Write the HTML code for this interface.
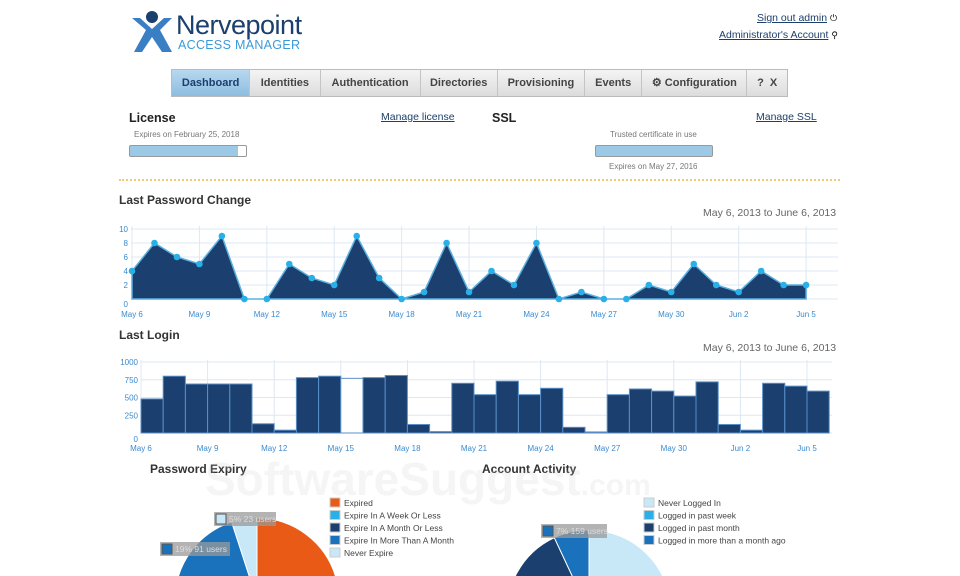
<!DOCTYPE html>
<html><head><meta charset="utf-8"><style>
body{margin:0;width:960px;height:576px;overflow:hidden;background:#fff;font-family:"Liberation Sans",sans-serif;position:relative}
.a{position:absolute;white-space:nowrap}
a{color:#1b3f6e;text-decoration:underline}
.nav{position:absolute;left:171px;top:69px;height:26px;width:615px;border:1px solid #bbb;background:linear-gradient(#f4f4f4,#dcdcdc);display:flex;font-size:11px;font-weight:bold;color:#444}
.nav div{border-right:1px solid #c4c4c4;line-height:26px;text-align:center}
</style></head><body>
<svg class="a" style="left:130px;top:10px" width="44" height="44" viewBox="0 0 44 44">
<circle cx="22" cy="7" r="6" fill="#1b3f6e"/>
<path d="M2 8 L16 20 L4 42 L12 42 L22 27 L32 42 L42 42 L30 20 L42 8 L34 8 L22 19 L10 8Z" fill="#3a7fc4"/>
</svg>
<div class="a" style="left:176px;top:10px;font-size:27px;color:#1b3f6e;letter-spacing:-0.5px">Nervepoint</div>
<div class="a" style="left:178px;top:38px;font-size:12.5px;color:#3a9ad9;letter-spacing:0.3px">ACCESS MANAGER</div>
<div class="a" style="left:757px;top:12px;font-size:10.5px"><a>Sign out admin</a> <span style="font-size:9px">⏻</span></div>
<div class="a" style="left:719px;top:29px;font-size:10.5px"><a>Administrator's Account</a> <span style="font-size:9px">⚲</span></div>
<div class="nav">
<div style="width:78px;background:linear-gradient(#b8d8ef,#8dbde0);color:#1b3f6e">Dashboard</div>
<div style="width:70px">Identities</div><div style="width:100px">Authentication</div><div style="width:77px">Directories</div><div style="width:87px">Provisioning</div><div style="width:57px">Events</div><div style="width:105px">⚙ Configuration</div><div style="width:40px;border:none">? &nbsp;X</div>
</div>
<div class="a" style="left:129px;top:111px;font-size:12.5px;font-weight:bold;color:#222">License</div>
<div class="a" style="left:381px;top:111px;font-size:10.5px"><a>Manage license</a></div>
<div class="a" style="left:492px;top:111px;font-size:12.5px;font-weight:bold;color:#222">SSL</div>
<div class="a" style="left:756px;top:111px;font-size:10.5px"><a>Manage SSL</a></div>
<div class="a" style="left:134px;top:130px;font-size:8px;color:#777">Expires on February 25, 2018</div>
<div class="a" style="left:610px;top:130px;font-size:8px;color:#777">Trusted certificate in use</div>
<div class="a" style="left:609px;top:162px;font-size:8px;color:#777">Expires on May 27, 2016</div>
<div class="a" style="left:129px;top:145px;width:116px;height:10px;border:1px solid #999;border-radius:2px;background:linear-gradient(90deg,#9cc9e6 0 93%,#fff 93%)"></div>
<div class="a" style="left:595px;top:145px;width:116px;height:10px;border:1px solid #999;border-radius:2px;background:#9cc9e6"></div>
<div class="a" style="left:119px;top:179px;width:721px;border-top:2px dotted #f5c878"></div>
<div class="a" style="left:119px;top:193px;font-size:12px;font-weight:bold;color:#333">Last Password Change</div>
<div class="a" style="left:703px;top:207px;font-size:10.5px;color:#666">May 6, 2013 to June 6, 2013</div>
<div class="a" style="left:119px;top:328px;font-size:12px;font-weight:bold;color:#333">Last Login</div>
<div class="a" style="left:703px;top:342px;font-size:10.5px;color:#666">May 6, 2013 to June 6, 2013</div>
<div class="a" style="left:150px;top:462px;font-size:12px;font-weight:bold;color:#333">Password Expiry</div>
<div class="a" style="left:482px;top:462px;font-size:12px;font-weight:bold;color:#333">Account Activity</div>
<svg class="a" style="left:0;top:0" width="960" height="576" id="s"></svg>
<div class="a" style="left:205px;top:452px;font-size:46px;font-weight:bold;color:rgba(200,200,200,0.18)">SoftwareSuggest<span style="font-size:30px">.com</span></div>
<script>
var s=document.getElementById('s'),h='';
function T(x,y,t,a){h+='<text x="'+x+'" y="'+y+'" font-size="8" fill="#3a8ad0" text-anchor="'+(a||'middle')+'" font-family="Liberation Sans">'+t+'</text>';}
var labs=['May 6','May 9','May 12','May 15','May 18','May 21','May 24','May 27','May 30','Jun 2','Jun 5'];
var x0=132,dx=22.47,y0=299;
for(var v=0;v<=10;v+=2){var y=y0-v*7;h+='<line x1="131" x2="838" y1="'+y+'" y2="'+y+'" stroke="#dce8f4"/>';T(128,y+3+(v==0?5:0),v,'end');}
for(var i=0;i<11;i++){var x=x0+i*3*dx;h+='<line x1="'+x+'" x2="'+x+'" y1="226" y2="'+y0+'" stroke="#dce8f4"/>';T(x,317,labs[i]);}
var d=[4,8,6,5,9,0,0,5,3,2,9,3,0,1,8,1,4,2,8,0,1,0,0,2,1,5,2,1,4,2,2];
var p='M'+x0+' '+y0;d.forEach(function(v,i){p+=' L'+(x0+i*dx)+' '+(y0-v*7)});p+=' L'+(x0+30*dx)+' '+y0+'Z';
h+='<path d="'+p+'" fill="#1b3f6e" stroke="#5ab0e0" stroke-width="1.5"/>';
d.forEach(function(v,i){h+='<circle cx="'+(x0+i*dx)+'" cy="'+(y0-v*7)+'" r="3.3" fill="#29b0e8"/>'});
var b0=433,bx=141,bd=22.2,sc=0.071;
[0,250,500,750,1000].forEach(function(v){var y=b0-v*sc;h+='<line x1="141" x2="832" y1="'+y+'" y2="'+y+'" stroke="#dce8f4"/>';T(138,y+3+(v==0?6:0),v,'end');});
for(var i=0;i<11;i++){var x=bx+i*3*bd;h+='<line x1="'+x+'" x2="'+x+'" y1="360" y2="'+b0+'" stroke="#dce8f4"/>';T(x,451,labs[i]);}
var b=[480,800,690,690,690,130,40,780,800,770,780,810,120,20,700,540,730,540,630,80,15,540,620,590,520,720,120,40,700,660,590];
b.forEach(function(v,i){var hh=v*sc;h+='<rect x="'+(bx+i*bd)+'" y="'+(b0-hh)+'" width="'+bd+'" height="'+hh+'" fill="'+(i==9?'#fff':'#1b3f6e')+'" stroke="#5a8fc8" stroke-width="1"/>'});
function arc(cx,cy,r,a1,a2,c){var f=function(a){return [cx+r*Math.sin(a*Math.PI/180),cy-r*Math.cos(a*Math.PI/180)]};var p1=f(a1),p2=f(a2);h+='<path d="M'+cx+' '+cy+' L'+p1+' A'+r+' '+r+' 0 '+((a2-a1)>180?1:0)+' 1 '+p2+'Z" fill="'+c+'" stroke="#fff" stroke-width="1"/>';}
arc(257,600,82,0,150,'#e85a16');arc(257,600,82,150,272,'#e85a16');arc(257,600,82,272,342,'#1a72bc');arc(257,600,82,342,360,'#c8e8f8');
arc(589,612,82,0,190,'#c8e8f8');arc(589,612,82,190,335,'#1b3f6e');arc(589,612,82,335,360,'#1a72bc');
function tag(x,y,w,t,c){h+='<rect x="'+x+'" y="'+y+'" width="'+w+'" height="14" fill="#999" opacity="0.75"/><rect x="'+(x+2)+'" y="'+(y+2)+'" width="10" height="10" fill="'+c+'" stroke="#555"/><text x="'+(x+15)+'" y="'+(y+10)+'" font-size="8.5" fill="#ddd" font-family="Liberation Sans">'+t+'</text>';}
tag(214,512,62,'5% 23 users','#c8e8f8');tag(160,542,70,'19% 91 users','#1a72bc');tag(541,524,66,'7% 159 users','#1a72bc');
function leg(x,y,items){items.forEach(function(it,i){var yy=y+i*12.5;h+='<rect x="'+x+'" y="'+yy+'" width="10" height="9" fill="'+it[1]+'" stroke="#ccc"/><text x="'+(x+14)+'" y="'+(yy+8)+'" font-size="8.5" fill="#444" font-family="Liberation Sans">'+it[0]+'</text>'});}
leg(330,498,[['Expired','#e85a16'],['Expire In A Week Or Less','#29b0e8'],['Expire In A Month Or Less','#1b3f6e'],['Expire In More Than A Month','#1a72bc'],['Never Expire','#c8e8f8']]);
leg(644,498,[['Never Logged In','#c8e8f8'],['Logged in past week','#29b0e8'],['Logged in past month','#1b3f6e'],['Logged in more than a month ago','#1a72bc']]);
s.innerHTML=h;
</script>
</body></html>
